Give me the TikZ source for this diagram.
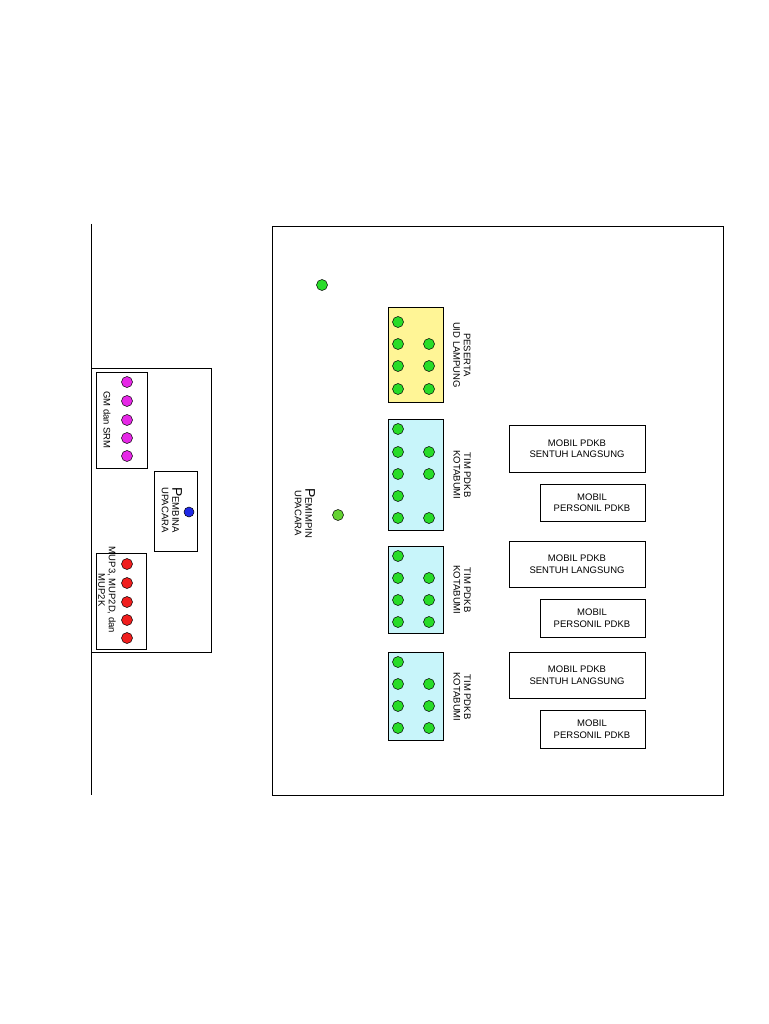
\documentclass[tikz,border=0pt]{standalone}
\usepackage{fontspec}
\setmainfont{Liberation Sans}
\begin{document}
\begin{tikzpicture}[x=1pt,y=-1pt,
  bx/.style={draw,line width=0.6pt},
  dotc/.style={circle,draw,line width=0.5pt,minimum size=11pt,inner sep=0pt},
  lab/.style={font=\fontsize{9.5}{10.5}\selectfont,align=center,rotate=-90,inner sep=0pt},
  mob/.style={font=\fontsize{9.5}{11.5}\selectfont,align=center,inner sep=0pt}]
\useasboundingbox (0,0) rectangle (768,1024);
\tikzset{g/.style={dotc,fill={rgb,255:red,40;green,220;blue,40}}}
\draw[line width=0.6pt] (91,224) -- (91,795);
\draw[bx] (91,368) rectangle (211,652);
\draw[bx] (96,372) rectangle (147,468);
\foreach \y in {382,401,420,438,456} \node[dotc,fill={rgb,255:red,230;green,40;blue,230}] at (127,\y) {};
\node[lab] (gm) at (107,420) {GM dan SRM};
\draw[bx] (154,471) rectangle (197,551);
\node[dotc,fill={rgb,255:red,30;green,40;blue,230},minimum size=10pt] (pb) at (189,512) {};
\node[lab] (pbt) at (172,510) {{\fontsize{14}{14}\selectfont P}EMBINA\\UPACARA};
\draw[bx] (96,553) rectangle (146,649);
\foreach \y in {564,583,602,620,638} \node[dotc,fill={rgb,255:red,240;green,30;blue,30}] at (127,\y) {};
\node[lab] (mup) at (107,590) {MUP3, MUP2D, dan\\MUP2K};
\draw[bx] (272,226) rectangle (723,795);
\node[g] (c0) at (322,285) {};
\draw[bx,fill={rgb,255:red,255;green,245;blue,150}] (388,307) rectangle (443,402);
\foreach \y in {322,344,366,389} \node[g] at (398,\y) {};
\foreach \y in {344,366,389} \node[g] at (429,\y) {};
\node[lab] (p1) at (462,355) {PESERTA\\UID LAMPUNG};
\draw[bx,fill={rgb,255:red,200;green,245;blue,250}] (388,419) rectangle (443,530);
\foreach \y in {429,452,474,496,518} \node[g] at (398,\y) {};
\foreach \y in {452,474,518} \node[g] at (429,\y) {};
\node[lab] (t1) at (462,475) {TIM PDKB\\KOTABUMI};
\node[g,fill={rgb,255:red,100;green,210;blue,50}] (pm) at (338,515) {};
\node[lab] (pmt) at (305,513) {{\fontsize{14}{14}\selectfont P}EMIMPIN\\UPACARA};
\draw[bx,fill={rgb,255:red,200;green,245;blue,250}] (388,546) rectangle (443,633);
\foreach \y in {556,578,600,622} \node[g] at (398,\y) {};
\foreach \y in {578,600,622} \node[g] at (429,\y) {};
\node[lab] (t2) at (462,590) {TIM PDKB\\KOTABUMI};
\draw[bx,fill={rgb,255:red,200;green,245;blue,250}] (388,652) rectangle (443,740);
\foreach \y in {662,684,706,728} \node[g] at (398,\y) {};
\foreach \y in {684,706,728} \node[g] at (429,\y) {};
\node[lab] (t3) at (462,697) {TIM PDKB\\KOTABUMI};
\foreach \a/\b/\c/\d in {425/472/484/521, 541/587/599/637, 652/698/710/748}{
  \draw[bx] (509,\a) rectangle (645,\b);
  \node[mob] at (577,{(\a+\b)/2}) {MOBIL PDKB\\SENTUH LANGSUNG};
  \draw[bx] (540,\c) rectangle (645,\d);
  \node[mob] at (592,{(\c+\d)/2}) {MOBIL\\PERSONIL PDKB};
}
\end{tikzpicture}
\end{document}
